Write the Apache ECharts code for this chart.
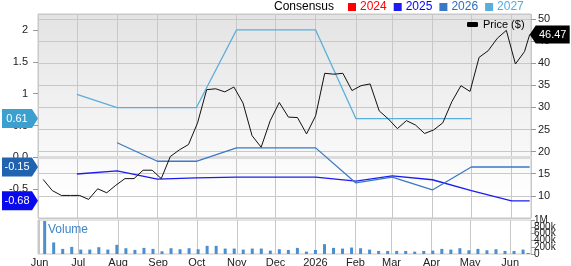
<!DOCTYPE html>
<html>
<head>
<meta charset="utf-8">
<script src="https://cdn.jsdelivr.net/npm/echarts@6/dist/echarts.min.js"></script>
<style>
  html, body { margin: 0; padding: 0; background: #fff; }
  #chart { width: 571px; height: 266px; }
</style>
</head>
<body>
<div id="chart"></div>
<script>
// weekly closing prices and volume (thousands)
var priceDates = ['2025-06-05','2025-06-12','2025-06-19','2025-06-26','2025-07-03','2025-07-10','2025-07-17','2025-07-24','2025-07-31',
  '2025-08-07','2025-08-14','2025-08-21','2025-08-28','2025-09-04','2025-09-11','2025-09-18','2025-09-25','2025-10-02','2025-10-09',
  '2025-10-16','2025-10-23','2025-10-30','2025-11-06','2025-11-13','2025-11-20','2025-11-27','2025-12-04','2025-12-11','2025-12-18',
  '2025-12-25','2026-01-01','2026-01-08','2026-01-15','2026-01-22','2026-01-29','2026-02-05','2026-02-12','2026-02-19','2026-02-26',
  '2026-03-05','2026-03-12','2026-03-19','2026-03-26','2026-04-02','2026-04-09','2026-04-16','2026-04-23','2026-04-30','2026-05-07',
  '2026-05-14','2026-05-21','2026-05-28','2026-06-04','2026-06-11','2026-06-15'];
var prices = [13.7, 11.2, 10.1, 10.1, 10.1, 9.2, 11.6, 10.7, 12.4, 13.9, 13.9, 15.8, 15.8, 13.9, 18.9, 20.4, 21.6, 26.5,
  34.0, 34.2, 33.5, 34.6, 31.0, 23.6, 21.0, 27.0, 31.1, 27.8, 27.7, 24.0, 28.1, 37.7, 37.5, 37.7, 33.8, 34.9, 35.3,
  29.2, 27.4, 25.2, 27.0, 26.0, 24.1, 24.9, 26.5, 31.3, 34.9, 33.6, 41.3, 42.8, 45.6, 47.4, 39.8, 42.6, 46.47];
var volumes = [970, 340, 150, 210, 130, 130, 200, 130, 270, 170, 120, 180, 150, 80, 170, 140, 170, 140, 240, 240, 160,
  160, 130, 160, 160, 100, 140, 120, 180, 70, 120, 290, 180, 160, 190, 170, 130, 90, 90, 90, 90, 70, 90, 100, 150,
  130, 170, 110, 150, 110, 140, 90, 90, 130, 30];

// consensus EPS estimates by fiscal year
var dates2027 = ['2025-07-01','2025-08-01','2025-09-01','2025-10-01','2025-11-01','2025-12-01','2026-01-01','2026-02-01','2026-03-01','2026-04-01','2026-05-01'];
var eps2027 = [0.99, 0.78, 0.78, 0.78, 2.0, 2.0, 2.0, 0.61, 0.61, 0.61, 0.61];
var dates2026 = ['2025-08-01','2025-09-01','2025-10-01','2025-11-01','2025-12-01','2026-01-01','2026-02-01','2026-03-01','2026-04-01','2026-05-01','2026-06-01','2026-06-15'];
var eps2026 = [0.23, -0.06, -0.06, 0.15, 0.15, 0.15, -0.40, -0.31, -0.51, -0.15, -0.15, -0.15];
var dates2025 = ['2025-07-01','2025-08-01','2025-09-01','2025-10-01','2025-11-01','2025-12-01','2026-01-01','2026-02-01','2026-03-01','2026-04-01','2026-05-01','2026-06-01','2026-06-15'];
var eps2025 = [-0.26, -0.21, -0.34, -0.32, -0.31, -0.31, -0.31, -0.37, -0.29, -0.35, -0.52, -0.68, -0.68];

var epsTicks = [-0.5, 0, 0.5, 1, 1.5, 2];
var volTicksA = [0, 400, 800];
var volTicksB = [200, 600, 1000];
var monthNames = ['Jan','Feb','Mar','Apr','May','Jun','Jul','Aug','Sep','Oct','Nov','Dec'];

var xMin = '2025-06-01', xMax = '2026-06-16';
var font = '"Liberation Sans", Arial, sans-serif';
var gridColor = '#c8c8c8';

function zip(d, v) { return d.map(function (x, i) { return [x, v[i]]; }); }
function volLabel(v) { return v === 1000 ? '1M' : v === 0 ? '0' : v + 'k'; }

var tagLeft = 'path://M0,0 L30,0 L36,9.5 L30,19 L0,19 Z';
var tagRight = 'path://M0,9 L6,0 L40,0 L40,18 L6,18 Z';

function epsSeries(name, dates, vals, lineColor, tagColor) {
  var last = vals[vals.length - 1];
  return {
    name: name, type: 'line', xAxisIndex: 0, yAxisIndex: 0,
    data: zip(dates, vals), showSymbol: false, symbol: 'none',
    lineStyle: { color: lineColor, width: 1.3 }, itemStyle: { color: lineColor },
    emphasis: { disabled: true }, z: 3,
    markPoint: {
      silent: true, symbol: tagLeft, symbolSize: [36, 19], symbolOffset: [-18, 0],
      itemStyle: { color: tagColor },
      label: { show: true, color: '#fff', fontSize: 11, fontFamily: font, offset: [-3, 0],
        formatter: function (p) { return p.value.toFixed(2); } },
      data: [{ coord: [xMin, last], value: last }]
    }
  };
}

function volAxis(ticks) {
  return { type: 'value', gridIndex: 1, position: 'right', min: 0, max: 1000,
    splitLine: { show: false }, axisLine: { show: false },
    axisTick: { show: true, length: 4, customValues: ticks, lineStyle: { color: '#999' } },
    axisLabel: { fontSize: 10, color: '#222', fontFamily: font, margin: 3,
      showMinLabel: true, showMaxLabel: true, customValues: ticks, formatter: volLabel } };
}

var chart = echarts.init(document.getElementById('chart'));
chart.setOption({
  animation: false,
  backgroundColor: '#fff',
  textStyle: { fontFamily: font },
  title: [
    { text: 'Consensus', left: 274, top: 1, padding: 0,
      textStyle: { fontSize: 12, fontWeight: 'normal', color: '#000', fontFamily: font } },
    { text: 'Volume', left: 48, top: 224, padding: 0,
      textStyle: { fontSize: 12, fontWeight: 'normal', color: '#3e84c8', fontFamily: font } }
  ],
  legend: [
    { left: 348, top: 1, padding: 0, itemWidth: 8, itemHeight: 8, itemGap: 7, icon: 'rect',
      textStyle: { fontSize: 12, fontFamily: font, padding: [0, 0, 0, -1] },
      data: [
        { name: '2024', textStyle: { color: '#ff0000' } },
        { name: '2025', textStyle: { color: '#0000ff' } },
        { name: '2026', textStyle: { color: '#2a6ebd' } },
        { name: '2027', textStyle: { color: '#55aadd' } }
      ], selectedMode: false },
    { left: 467, top: 19, padding: 0, itemWidth: 11, itemHeight: 5, icon: 'roundRect',
      textStyle: { fontSize: 11, fontFamily: font, color: '#000' },
      data: ['Price ($)'], selectedMode: false }
  ],
  grid: [
    { left: 38, right: 40, top: 14, height: 204, show: true, borderColor: gridColor, borderWidth: 1,
      outerBoundsMode: 'none',
      backgroundColor: new echarts.graphic.LinearGradient(0, 0, 0, 1, [
        { offset: 0, color: '#e3e3e3' }, { offset: 0.9, color: '#ffffff' }, { offset: 1, color: '#ffffff' }]) },
    { left: 38, right: 40, top: 220, height: 34, show: true, borderColor: gridColor, borderWidth: 1,
      outerBoundsMode: 'none', backgroundColor: '#fff' }
  ],
  xAxis: [
    { type: 'time', gridIndex: 0, min: xMin, max: xMax, splitNumber: 12,
      axisLabel: { show: false }, axisTick: { show: false },
      axisLine: { show: true, lineStyle: { color: '#dcdcdc', width: 3 } },
      splitLine: { show: true, lineStyle: { color: gridColor, width: 1 } } },
    { type: 'time', gridIndex: 1, min: xMin, max: xMax, splitNumber: 12,
      axisTick: { show: false },
      axisLine: { show: false },
      splitLine: { show: true, lineStyle: { color: gridColor, width: 1 } },
      axisLabel: { show: true, fontSize: 11, color: '#222', fontFamily: font, margin: 3,
        formatter: function (v) {
          var d = new Date(v);
          return d.getMonth() === 0 ? String(d.getFullYear()) : monthNames[d.getMonth()];
        } } }
  ],
  yAxis: [
    { type: 'value', gridIndex: 0, position: 'left', min: -0.95, max: 2.25,
      splitLine: { show: false }, axisLine: { show: false },
      axisTick: { show: true, length: 5, customValues: epsTicks, lineStyle: { color: '#999' } },
      axisLabel: { fontSize: 11, color: '#222', fontFamily: font, margin: 10, customValues: epsTicks,
        formatter: function (v) { return v === 0 ? '0.0' : String(v); } } },
    { type: 'value', gridIndex: 0, position: 'right', min: 5, max: 51.1, interval: 5,
      splitLine: { show: true, lineStyle: { color: gridColor, width: 1 } },
      axisLine: { show: false },
      axisTick: { show: true, length: 5, lineStyle: { color: '#999' } },
      axisLabel: { fontSize: 11, color: '#222', fontFamily: font, margin: 7,
        showMinLabel: false, showMaxLabel: false } },
    volAxis(volTicksA),
    volAxis(volTicksB)
  ],
  series: [
    { name: '2024', type: 'line', xAxisIndex: 0, yAxisIndex: 0, data: [], itemStyle: { color: '#ff0000' } },
    epsSeries('2025', dates2025, eps2025, '#1c1cf0', '#0a0aee'),
    epsSeries('2026', dates2026, eps2026, '#3a78c8', '#2063b0'),
    epsSeries('2027', dates2027, eps2027, '#5aaedb', '#3ba0d0'),
    { name: 'Price ($)', type: 'line', xAxisIndex: 0, yAxisIndex: 1,
      data: zip(priceDates, prices), showSymbol: false, symbol: 'none',
      lineStyle: { color: '#111', width: 1 }, itemStyle: { color: '#000' },
      emphasis: { disabled: true }, z: 4,
      markPoint: {
        silent: true, symbol: tagRight, symbolSize: [40, 18], symbolOffset: [20, 0],
        itemStyle: { color: '#000' },
        label: { show: true, color: '#fff', fontSize: 11, fontFamily: font, offset: [3, 0],
          formatter: function (p) { return p.value.toFixed(2); } },
        data: [{ coord: [priceDates[priceDates.length - 1], prices[prices.length - 1]], value: prices[prices.length - 1] }]
      } },
    { name: 'Volume', type: 'bar', xAxisIndex: 1, yAxisIndex: 2,
      data: zip(priceDates, volumes), barWidth: 3,
      itemStyle: { color: '#4c8fd0' }, emphasis: { disabled: true } }
  ]
});
</script>
</body>
</html>
